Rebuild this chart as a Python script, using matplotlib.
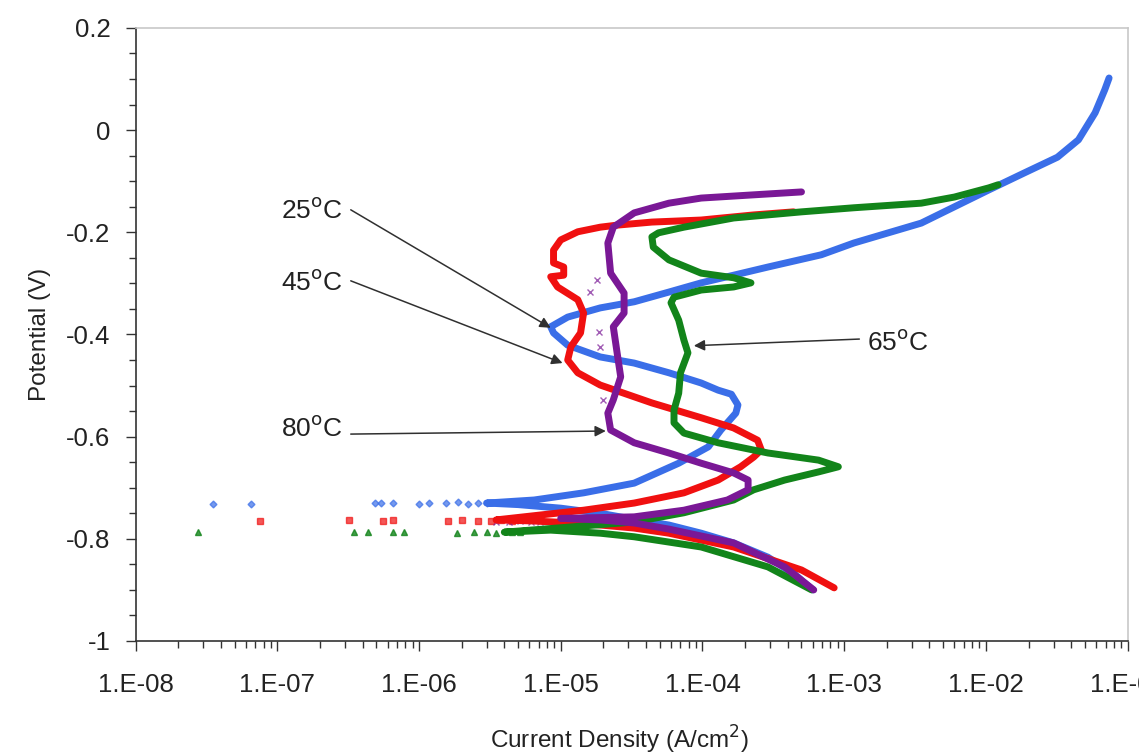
import matplotlib as mpl
mpl.use("Agg")
import matplotlib.pyplot as plt
from matplotlib.ticker import FixedLocator, LogLocator, MultipleLocator, NullFormatter

plt.rcParams['font.family'] = ['Liberation Sans', 'DejaVu Sans']

# --- data (current A/cm2, potential V) ---
blue_i = [6.0e-4, 4.5e-4, 2.9e-4, 1.66e-4, 9.8e-5, 5.8e-5, 3.3e-5, 1.9e-5, 1.0e-5, 5.0e-6, 3.0e-6,
          6.5e-6, 1.45e-5, 3.3e-5, 6.8e-5, 1.1e-4, 1.35e-4, 1.72e-4, 1.78e-4, 1.6e-4, 1.29e-4,
          9.8e-5, 5.8e-5, 3.3e-5, 1.9e-5, 1.12e-5, 8.9e-6, 8.5e-6, 1.12e-5, 1.9e-5, 3.3e-5,
          5.8e-5, 9.8e-5, 1.66e-4, 2.9e-4, 6.9e-4, 1.17e-3, 3.5e-3, 1.05e-2, 1.86e-2, 3.2e-2,
          4.5e-2, 5.9e-2, 6.9e-2, 7.4e-2]
blue_v = [-0.900, -0.870, -0.836, -0.808, -0.789, -0.773, -0.762, -0.750, -0.740, -0.733, -0.730,
          -0.724, -0.710, -0.691, -0.652, -0.620, -0.587, -0.554, -0.538, -0.517, -0.509,
          -0.495, -0.475, -0.456, -0.444, -0.421, -0.397, -0.385, -0.366, -0.348, -0.336,
          -0.317, -0.299, -0.284, -0.268, -0.244, -0.221, -0.182, -0.117, -0.084, -0.053,
          -0.019, 0.034, 0.079, 0.102]

red_i = [8.5e-4, 5.0e-4, 1.66e-4, 5.8e-5, 3.3e-5, 1.45e-5, 6.3e-6, 3.5e-6,
         1.45e-5, 3.3e-5, 7.4e-5, 1.29e-4, 1.86e-4, 2.3e-4, 2.6e-4, 2.45e-4, 1.66e-4, 9.8e-5,
         4.4e-5, 1.9e-5, 1.32e-5, 1.12e-5, 1.18e-5, 1.38e-5, 1.45e-5, 1.32e-5, 9.5e-6, 8.5e-6,
         1.05e-5, 1.05e-5, 8.9e-6, 8.9e-6, 1.0e-5, 1.32e-5, 1.9e-5, 2.5e-5, 4.4e-5, 9.8e-5,
         2.3e-4, 4.4e-4]
red_v = [-0.896, -0.861, -0.816, -0.789, -0.779, -0.770, -0.765, -0.763,
         -0.744, -0.730, -0.710, -0.685, -0.659, -0.640, -0.626, -0.607, -0.583, -0.563,
         -0.534, -0.499, -0.475, -0.450, -0.424, -0.397, -0.358, -0.332, -0.307, -0.287,
         -0.284, -0.268, -0.260, -0.235, -0.215, -0.199, -0.190, -0.186, -0.180, -0.176,
         -0.166, -0.160]

green_i = [5.9e-4, 2.9e-4, 9.8e-5, 3.3e-5, 1.9e-5, 8.5e-6, 4.0e-6,
           3.3e-5, 7.4e-5, 1.66e-4, 2.3e-4, 3.8e-4, 6.6e-4, 9.1e-4, 6.6e-4, 2.9e-4, 1.29e-4,
           7.4e-5, 6.3e-5, 6.3e-5, 6.8e-5, 7.0e-5, 7.9e-5, 7.4e-5, 6.8e-5, 6.0e-5, 6.3e-5,
           9.8e-5, 1.66e-4, 2.2e-4, 1.66e-4, 9.8e-5, 5.8e-5, 4.5e-5, 4.4e-5, 4.9e-5, 7.4e-5,
           1.66e-4, 5.0e-4, 1.17e-3, 3.5e-3, 6.0e-3, 1.05e-2, 1.22e-2]
green_v = [-0.900, -0.855, -0.816, -0.796, -0.789, -0.783, -0.787,
           -0.767, -0.749, -0.724, -0.704, -0.685, -0.669, -0.659, -0.646, -0.632, -0.612,
           -0.593, -0.573, -0.548, -0.515, -0.475, -0.436, -0.411, -0.372, -0.338, -0.327,
           -0.313, -0.307, -0.299, -0.289, -0.280, -0.254, -0.229, -0.209, -0.201, -0.190,
           -0.172, -0.160, -0.152, -0.143, -0.131, -0.113, -0.107]

purple_i = [6.1e-4, 3.8e-4, 1.66e-4, 5.8e-5, 3.3e-5, 1.9e-5, 1.0e-5,
            3.3e-5, 7.4e-5, 1.5e-4, 2.1e-4, 2.1e-4, 1.66e-4, 9.8e-5, 5.8e-5, 3.3e-5, 2.25e-5,
            2.15e-5, 2.35e-5, 2.65e-5, 2.5e-5, 2.35e-5, 2.8e-5, 2.8e-5, 2.25e-5, 2.15e-5,
            2.35e-5, 3.3e-5, 5.8e-5, 9.8e-5, 2.2e-4, 5.0e-4]
purple_v = [-0.900, -0.855, -0.808, -0.781, -0.769, -0.763, -0.760,
            -0.757, -0.744, -0.724, -0.704, -0.685, -0.671, -0.652, -0.632, -0.612, -0.587,
            -0.554, -0.528, -0.483, -0.436, -0.385, -0.358, -0.319, -0.280, -0.221,
            -0.190, -0.162, -0.143, -0.133, -0.127, -0.121]

# scattered points around the corrosion potential
blue_sc_i = [3.5e-8, 6.5e-8, 4.9e-7, 5.4e-7, 6.6e-7, 1.0e-6, 1.17e-6, 1.55e-6, 1.9e-6, 2.2e-6, 2.6e-6, 3.0e-6]
blue_sc_v = [-0.731, -0.731, -0.730, -0.730, -0.729, -0.731, -0.729, -0.730, -0.728, -0.731, -0.729, -0.730]
red_sc_i = [7.6e-8, 3.2e-7, 5.6e-7, 6.6e-7, 1.6e-6, 2.0e-6, 2.6e-6, 3.2e-6, 3.8e-6, 4.5e-6]
red_sc_v = [-0.765, -0.764, -0.765, -0.764, -0.766, -0.764, -0.765, -0.766, -0.764, -0.765]
green_sc_i = [2.75e-8, 3.5e-7, 4.4e-7, 6.6e-7, 7.9e-7, 1.86e-6, 2.45e-6, 3.0e-6, 3.5e-6, 4.5e-6, 5.2e-6]
green_sc_v = [-0.787, -0.787, -0.787, -0.787, -0.787, -0.788, -0.786, -0.787, -0.788, -0.786, -0.787]
purple_sc_i = [3.5e-6, 4.3e-6, 5.2e-6, 6.2e-6, 7.2e-6, 1.8e-5, 1.62e-5, 1.86e-5, 1.9e-5, 2.0e-5]
purple_sc_v = [-0.767, -0.768, -0.766, -0.767, -0.768, -0.293, -0.317, -0.395, -0.424, -0.528]

xtick_vals = [1e-8, 1e-7, 1e-6, 1e-5, 1e-4, 1e-3, 1e-2, 1e-1]
xtick_labels = ['1.E-08', '1.E-07', '1.E-06', '1.E-05', '1.E-04', '1.E-03', '1.E-02', '1.E-01']
ytick_vals = [0.2, 0, -0.2, -0.4, -0.6, -0.8, -1]
ytick_labels = ['0.2', '0', '-0.2', '-0.4', '-0.6', '-0.8', '-1']

c_blue = '#3a6ee8'
c_red = '#f01010'
c_green = '#12841a'
c_purple = '#7a1896'

fig = plt.figure(figsize=(11.39, 7.55), dpi=100)
ax = fig.add_axes([0.119, 0.151, 0.871, 0.812])

lw = 5
ax.plot(blue_i, blue_v, color=c_blue, lw=lw, solid_capstyle='round', solid_joinstyle='round', zorder=2)
ax.plot(red_i, red_v, color=c_red, lw=lw, solid_capstyle='round', solid_joinstyle='round', zorder=3)
ax.plot(green_i, green_v, color=c_green, lw=lw, solid_capstyle='round', solid_joinstyle='round', zorder=4)
ax.plot(purple_i, purple_v, color=c_purple, lw=lw, solid_capstyle='round', solid_joinstyle='round', zorder=5)

ax.plot(blue_sc_i, blue_sc_v, ls='none', marker='D', ms=3.5, color=c_blue, alpha=0.7)
ax.plot(red_sc_i, red_sc_v, ls='none', marker='s', ms=4, color=c_red, alpha=0.7)
ax.plot(green_sc_i, green_sc_v, ls='none', marker='^', ms=4.5, color=c_green, alpha=0.8)
ax.plot(purple_sc_i, purple_sc_v, ls='none', marker='x', ms=4, mew=1, color=c_purple, alpha=0.7)

ax.set_xscale('log')
ax.set_xlim(1e-8, 1e-1)
ax.set_ylim(-1, 0.2)

ax.xaxis.set_major_locator(FixedLocator(xtick_vals))
ax.set_xticklabels(xtick_labels)
ax.xaxis.set_minor_locator(LogLocator(base=10, subs=range(2, 10), numticks=20))
ax.xaxis.set_minor_formatter(NullFormatter())
ax.set_yticks(ytick_vals)
ax.set_yticklabels(ytick_labels)
ax.yaxis.set_minor_locator(MultipleLocator(0.05))

ax.tick_params(axis='both', which='major', direction='out', length=7, width=1,
               labelsize=18.5, colors='#333333', labelcolor='#222222')
ax.tick_params(axis='x', which='major', pad=16)
ax.tick_params(axis='y', which='major', pad=11)
ax.tick_params(axis='both', which='minor', direction='out', length=5, width=1, colors='#333333')

for s in ['left', 'bottom']:
    ax.spines[s].set_color('#333333')
    ax.spines[s].set_linewidth(1.2)
for s in ['top', 'right']:
    ax.spines[s].set_color('#c8c8c8')
    ax.spines[s].set_linewidth(1.2)

ax.set_xlabel('Current Density (A/cm$^2$)', fontsize=17.5, color='#222222')
ax.set_ylabel('Potential (V)', fontsize=17.5, color='#222222')
ax.xaxis.set_label_coords(0.488, -0.135)
ax.yaxis.set_label_coords(-0.085, 0.5)

# labels with arrows (positions in data coordinates)
arrow_kw = dict(arrowstyle='-|>', color='#303030', lw=1.1, mutation_scale=16, shrinkA=0, shrinkB=0)
notes = [
    ('25$^{\\rm o}$C', (1.75e-7, -0.157), (3.3e-7, -0.156), (8.5e-6, -0.387)),
    ('45$^{\\rm o}$C', (1.75e-7, -0.299), (3.3e-7, -0.295), (1.03e-5, -0.456)),
    ('80$^{\\rm o}$C', (1.75e-7, -0.585), (3.3e-7, -0.595), (2.08e-5, -0.589)),
    ('65$^{\\rm o}$C', (2.4e-3, -0.416), (1.28e-3, -0.409), (8.7e-5, -0.422)),
]
for txt, tpos, start, end in notes:
    ax.text(tpos[0], tpos[1], txt, fontsize=19, ha='center', va='center', color='#222222')
    ax.annotate('', xy=end, xytext=start, arrowprops=arrow_kw)

fig.savefig('out.png', dpi=100)
